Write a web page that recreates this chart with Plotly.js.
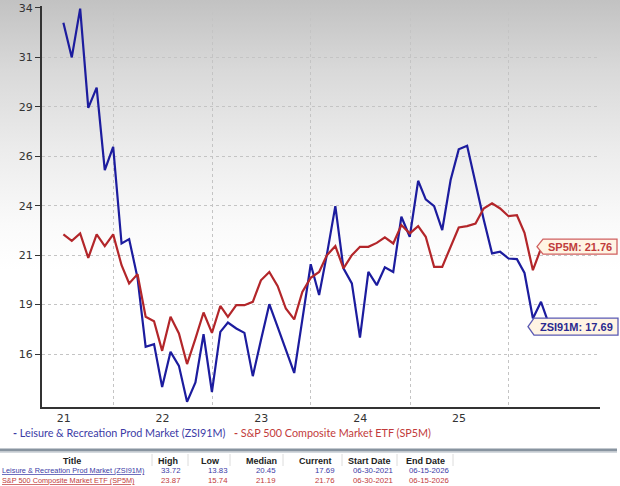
<!DOCTYPE html>
<html>
<head>
<meta charset="utf-8">
<script src="https://cdn.plot.ly/plotly-3.0.1.min.js"></script>
<style>
  html, body {
    margin: 0; padding: 0; width: 620px; height: 486px; overflow: hidden;
    background: linear-gradient(to bottom, #c2c2c2 0px, #d9d9d9 70px, #ececec 150px, #fafafa 225px, #ffffff 270px);
  }
  #chart { width: 620px; height: 486px; }
</style>
</head>
<body>
<div id="chart"></div>
<script>
// Monthly closes, June 2021 through mid-June 2026
const zsi91m = [
  33.00, 31.25, 33.72, 28.70, 29.72, 25.55, 26.73, 21.84, 22.06, 20.10,
  16.61, 16.75, 14.58, 16.36, 15.65, 13.83, 14.81, 17.25, 14.33, 17.37,
  17.84, 17.54, 17.32, 15.13, 16.95, 18.77, 17.61, 16.47, 15.29, 17.99,
  20.79, 19.23, 21.30, 23.73, 20.58, 19.82, 17.08, 20.40, 19.73, 20.63,
  20.40, 23.19, 22.18, 25.01, 24.07, 23.73, 22.52, 25.05, 26.60, 26.78,
  24.86, 23.06, 21.34, 21.42, 21.08, 21.05, 20.35, 18.05, 18.89, 17.69
];
const sp5m = [
  22.30, 21.97, 22.35, 21.11, 22.30, 21.71, 22.30, 20.74, 19.82, 20.29,
  18.13, 17.91, 16.41, 18.13, 17.29, 15.74, 17.03, 18.35, 17.32, 18.68,
  18.13, 18.72, 18.72, 18.89, 19.98, 20.40, 19.68, 18.55, 18.00, 19.39,
  20.10, 20.40, 21.25, 21.71, 20.58, 21.25, 21.67, 21.67, 21.87, 22.15,
  21.84, 22.77, 22.35, 22.72, 22.18, 20.66, 20.66, 21.67, 22.65, 22.72,
  22.85, 23.61, 23.87, 23.61, 23.22, 23.27, 22.38, 20.49, 21.59, 21.76
];

// Month-end dates for each close
const dates = zsi91m.map((_, i) => {
  const d = new Date(Date.UTC(2021, 6 + i, 0));
  return d.toISOString().slice(0, 10);
});

const yTickValues = [16.25, 18.75, 21.25, 23.75, 26.25, 28.75, 31.25, 33.75];
const yTickLabels = ['16', '19', '21', '24', '26', '29', '31', '34'];
const yearLabelDates = ['2021-07-01', '2022-07-01', '2023-07-01', '2024-07-01', '2025-07-01'];
const yearLabels = ['21', '22', '23', '24', '25'];
const yearStarts = ['2022-01-01', '2023-01-01', '2024-01-01', '2025-01-01', '2026-01-01'];

const seriesCodes = ['ZSI91M', 'SP5M'];
const seriesTitles = ['Leisure & Recreation Prod Market (ZSI91M)', 'S&P 500 Composite Market ETF (SP5M)'];
const tableHeaders = ['Title', 'High', 'Low', 'Median', 'Current', 'Start Date', 'End Date'];
const highs = ['33.72', '23.87'];
const lows = ['13.83', '15.74'];
const medians = ['20.45', '21.19'];
const startDates = ['06-30-2021', '06-30-2021'];
const endDates = ['06-15-2026', '06-15-2026'];

const BLUE = '#1c1c9e';
const RED = '#b3262a';
const TEXT_BLUE = '#3b3ba6';
const TEXT_RED = '#c23b3b';

// plot box in pixels: left 42, right 600, top 6, bottom 407
const PL = 42, PR = 600, PT = 6, PB = 407;
const px = x => (x - PL) / (PR - PL);
const py = y => (PB - y) / (PB - PT);

const lastZ = zsi91m[zsi91m.length - 1];
const lastS = sp5m[sp5m.length - 1];
const currents = [lastZ.toFixed(2), lastS.toFixed(2)];

const traces = [
  { x: dates, y: zsi91m, type: 'scatter', mode: 'lines', name: seriesTitles[0],
    line: { color: BLUE, width: 2.2 }, hoverinfo: 'skip' },
  { x: dates, y: sp5m, type: 'scatter', mode: 'lines', name: seriesTitles[1],
    line: { color: RED, width: 2.2 }, hoverinfo: 'skip' }
];

// end-of-line value tags: pointed boxes anchored on the series' last value
function tagPath(xTip, xBody, xRight, v, half) {
  return `M ${xTip},${v} L ${xBody},${v + half} L ${xRight},${v + half} L ${xRight},${v - half} L ${xBody},${v - half} Z`;
}
const shapes = [
  { type: 'path', xref: 'paper', yref: 'y', layer: 'above',
    path: tagPath(px(537), px(543), px(617), lastS - 0.08, 0.38),
    fillcolor: '#fff4e3', line: { color: '#d06060', width: 1.3 } },
  { type: 'path', xref: 'paper', yref: 'y', layer: 'above',
    path: tagPath(px(528), px(534), px(618), lastZ - 0.06, 0.43),
    fillcolor: '#fff4e3', line: { color: '#5a5ab4', width: 1.3 } },
  // separator above the summary table
  { type: 'line', xref: 'paper', yref: 'paper', x0: px(0), x1: px(617), y0: py(450), y1: py(450),
    line: { color: '#8894a0', width: 3 } },
  { type: 'line', xref: 'paper', yref: 'paper', x0: px(0), x1: px(617), y0: py(452.5), y1: py(452.5),
    line: { color: '#d4d9de', width: 1 } }
];
// header column dividers
[152, 188, 230, 283, 342, 397, 453].forEach(x => {
  shapes.push({ type: 'line', xref: 'paper', yref: 'paper', x0: px(x), x1: px(x),
    y0: py(454), y1: py(466), line: { color: '#dcdcdc', width: 1 } });
});

const annotations = [
  { xref: 'paper', yref: 'y', x: px(580), y: lastS - 0.08, xanchor: 'center', yanchor: 'middle',
    text: `<b>${seriesCodes[1]}: ${lastS.toFixed(2)}</b>`, showarrow: false,
    font: { family: 'Liberation Sans, Arial', size: 11, color: '#c03c3c' } },
  { xref: 'paper', yref: 'y', x: px(576), y: lastZ - 0.06, xanchor: 'center', yanchor: 'middle',
    text: `<b>${seriesCodes[0]}: ${lastZ.toFixed(2)}</b>`, showarrow: false,
    font: { family: 'Liberation Sans, Arial', size: 11, color: '#2a2a90' } },
  // legend line
  { xref: 'paper', yref: 'paper', x: px(11), y: py(432), xanchor: 'left', yanchor: 'middle', showarrow: false,
    text: `<b>-</b> ${seriesTitles[0]}`, font: { family: 'Lato', size: 10.8, color: TEXT_BLUE } },
  { xref: 'paper', yref: 'paper', x: px(232), y: py(432), xanchor: 'left', yanchor: 'middle', showarrow: false,
    text: `<b>-</b> ${seriesTitles[1]}`, font: { family: 'Lato', size: 10.8, color: TEXT_RED } }
];

// summary table
const headerCenters = [72, 168, 210, 261, 315, 369, 425];
tableHeaders.forEach((h, i) => {
  annotations.push({ xref: 'paper', yref: 'paper', x: px(headerCenters[i]), y: py(460.5),
    xanchor: 'center', yanchor: 'middle', showarrow: false, text: `<b>${h}</b>`,
    font: { family: 'Liberation Sans, Arial', size: 9, color: '#222' } });
});
const rowY = [470.5, 480];
const rowColors = [TEXT_BLUE, TEXT_RED];
const valueRights = [183, 230, 278, 337, 395, 451];
seriesTitles.forEach((t, r) => {
  annotations.push({ xref: 'paper', yref: 'paper', x: px(0), y: py(rowY[r]),
    xanchor: 'left', yanchor: 'middle', showarrow: false,
    text: `<span style="text-decoration:underline">${t}</span>`,
    font: { family: 'Liberation Sans, Arial', size: 7.3, color: rowColors[r] } });
  const cells = [highs[r], lows[r], medians[r], currents[r], startDates[r], endDates[r]];
  cells.forEach((c, j) => {
    annotations.push({ xref: 'paper', yref: 'paper', x: px(valueRights[j]), y: py(rowY[r]),
      xanchor: 'right', yanchor: 'middle', showarrow: false, text: c,
      font: { family: 'Liberation Sans, Arial', size: 7.8, color: rowColors[r] } });
  });
});

const tickFont = { family: 'DejaVu Sans, Verdana', size: 11, color: '#333' };
const layout = {
  width: 620, height: 486,
  margin: { l: PL, r: 620 - PR, t: PT, b: 486 - PB, pad: 0 },
  paper_bgcolor: 'rgba(0,0,0,0)',
  plot_bgcolor: 'rgba(0,0,0,0)',
  showlegend: false,
  xaxis: {
    type: 'date',
    range: ['2021-04-12', '2026-12-04'],
    tickmode: 'array', tickvals: yearLabelDates, ticktext: yearLabels,
    showgrid: false, ticks: '', tickfont: tickFont,
    showline: true, linecolor: '#333', linewidth: 2,
    zeroline: false,
    minor: { tickmode: 'array', tickvals: yearStarts, showgrid: true,
             gridcolor: '#c4c4c4', griddash: 'dot', gridwidth: 1, ticks: '' }
  },
  yaxis: {
    range: [13.57, 33.85],
    tickmode: 'array', tickvals: yTickValues, ticktext: yTickLabels,
    ticks: 'outside', ticklen: 5, tickwidth: 1, tickcolor: '#333',
    tickfont: tickFont,
    showline: true, linecolor: '#333', linewidth: 2,
    showgrid: true, gridcolor: '#c4c4c4', griddash: 'dot', gridwidth: 1,
    zeroline: false
  },
  shapes: shapes,
  annotations: annotations
};

Plotly.newPlot('chart', traces, layout, { staticPlot: true, displayModeBar: false });
</script>
</body>
</html>
